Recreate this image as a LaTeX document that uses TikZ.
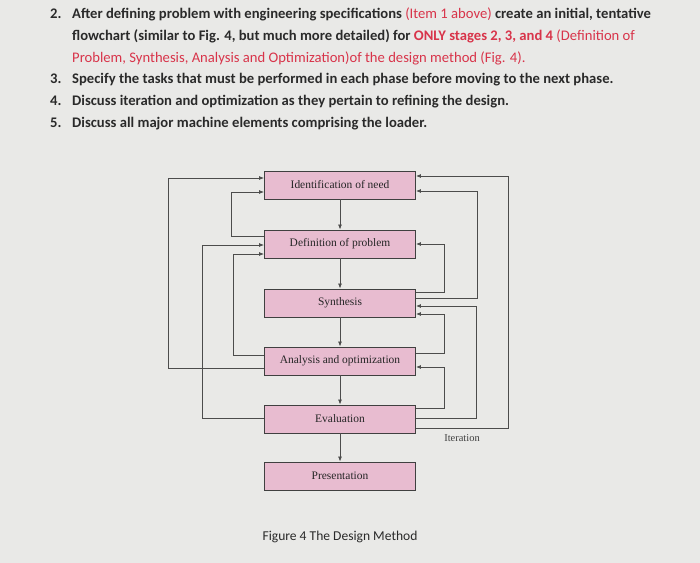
\documentclass[tikz,border=0pt]{standalone}
\usepackage{fontspec}
\setmainfont{Carlito}
\newfontfamily\boxfont{Liberation Serif}
\usetikzlibrary{arrows.meta}
\definecolor{bg}{HTML}{E9E9E7}
\definecolor{boxpink}{HTML}{E8BCD0}
\definecolor{redtxt}{HTML}{D8344A}
\definecolor{txt}{HTML}{2A2A2A}
\begin{document}
\begin{tikzpicture}[x=1bp,y=-1bp,
  stage/.style={draw=black!75,line width=0.9pt,fill=boxpink,minimum width=151bp,minimum height=28bp,inner sep=0pt,font=\boxfont\fontsize{11.5}{12}\selectfont,text=black!85},
  ln/.style={draw=black!70,line width=0.8pt},
  arr/.style={ln,-{Latex[length=5bp,width=4bp]}},
  qt/.style={anchor=base west,inner sep=0pt,font=\fontsize{14.7}{16}\selectfont\bfseries,text=txt}]
\fill[bg] (0,0) rectangle (700,563);
\useasboundingbox (0,0) rectangle (700,563);
\node[qt] (n2) at (50,19) {2.};
\node[qt] (l1) at (72,19) {After defining problem with engineering specifications \textcolor{redtxt}{\mdseries(Item 1 above)} create an initial, tentative};
\node[qt] (l2) at (72,41) {flowchart (similar to Fig. 4, but much more detailed) for \textcolor{redtxt}{ONLY stages 2, 3, and 4 \mdseries(Definition of}};
\node[qt,text=redtxt,font=\fontsize{14.7}{16}\selectfont] (l3) at (72,63) {Problem, Synthesis, Analysis and Optimization)of the design method (Fig. 4).};
\node[qt] (n3) at (50,84) {3.};
\node[qt] (l4) at (72,84) {Specify the tasks that must be performed in each phase before moving to the next phase.};
\node[qt] (n4) at (50,106) {4.};
\node[qt] (l5) at (72,106) {Discuss iteration and optimization as they pertain to refining the design.};
\node[qt] (n5) at (50,128) {5.};
\node[qt] (l6) at (72,128) {Discuss all major machine elements comprising the loader.};

\node[stage] (idn) at (340,185) {Identification of need};
\node[stage] (def) at (340,244) {Definition of problem};
\node[stage] (syn) at (340,303) {Synthesis};
\node[stage] (ana) at (340,361) {Analysis and optimization};
\node[stage] (eva) at (340,419) {Evaluation};
\node[stage] (pre) at (340,476) {Presentation};
\node[font=\boxfont\fontsize{10.5}{12}\selectfont,text=black!75] (it) at (462,438) {Iteration};
\node[font=\fontsize{13.6}{15}\selectfont,text=txt] (cap) at (340,537) {Figure 4 The Design Method};

\foreach \a/\b in {idn/def,def/syn,syn/ana,ana/eva,eva/pre} \draw[arr] (\a) -- (\b);
% left loops
\draw[arr] (ana.west|-0,368) -| (168,178) -- (idn.west|-0,178);
\draw[arr] (def.west|-0,236) -| (231,192) -- (idn.west|-0,192);
\draw[arr] (eva.west|-0,418) -| (202,245) -- (def.west|-0,245);
\draw[arr] (ana.west|-0,355) -| (233,254) -- (def.west|-0,254);
% right loops
\draw[arr] (eva.east|-0,428) -| (508,176) -- (idn.east|-0,176);
\draw[arr] (syn.east|-0,298) -| (477,191) -- (idn.east|-0,191);
\draw[arr] (syn.east|-0,292) -| (444,244) -- (def.east|-0,244);
\draw[arr] (eva.east|-0,418) -| (476,306) -- (syn.east|-0,306);
\draw[arr] (ana.east|-0,353) -| (444,314) -- (syn.east|-0,314);
\draw[arr] (eva.east|-0,408) -| (444,367) -- (ana.east|-0,367);
\end{tikzpicture}
\end{document}
